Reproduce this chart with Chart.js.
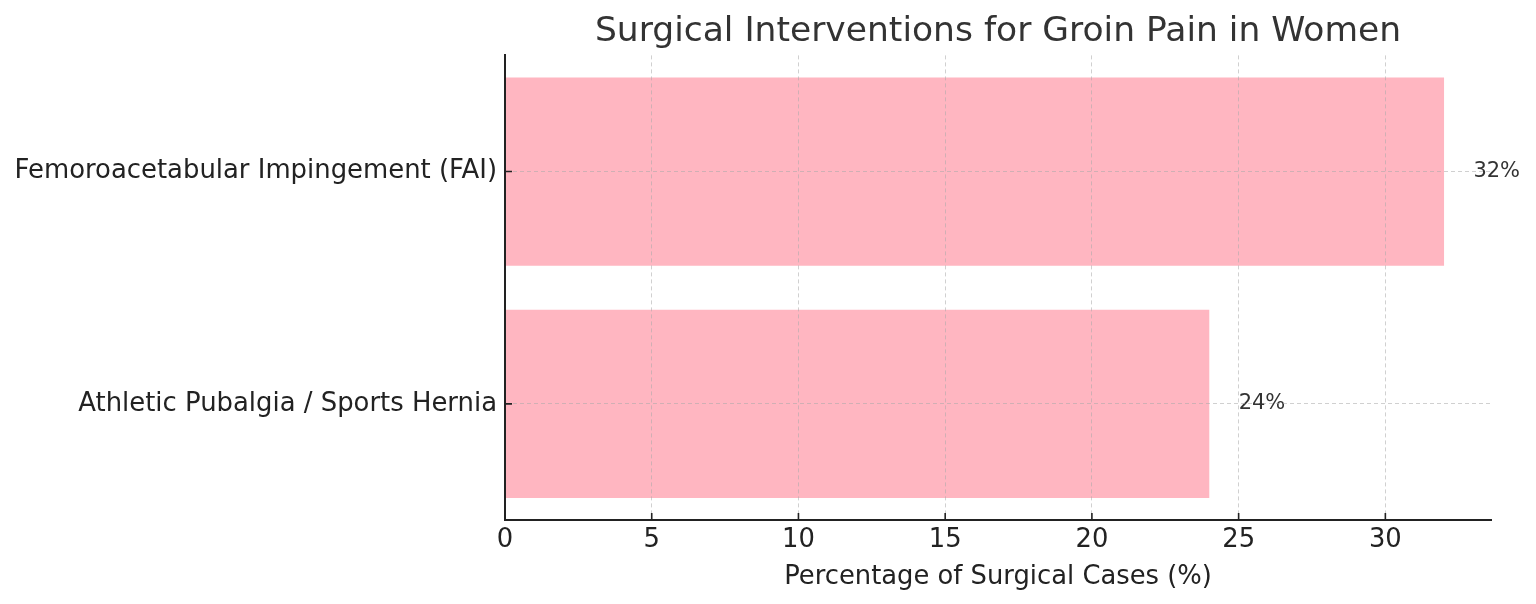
<!DOCTYPE html>
<html>
<head>
<meta charset="utf-8">
<script src="https://cdn.jsdelivr.net/npm/chart.js@4.4.1/dist/chart.umd.min.js"></script>
<style>
  html, body { margin: 0; padding: 0; background: #fff; }
  #wrap { width: 1536px; height: 604px; }
</style>
</head>
<body>
<div id="wrap"><canvas id="myChart" width="1536" height="604"></canvas></div>
<script>
// data
const categories = ['Femoroacetabular Impingement (FAI)', 'Athletic Pubalgia / Sports Hernia'];
const percentages = [32, 24];
const xTicks = [0, 5, 10, 15, 20, 25, 30];

const FONT = "'DejaVu Sans', 'Liberation Sans', sans-serif";
const gridColor = 'rgba(170,170,170,0.55)';

// value labels just right of each bar
const valueLabels = {
  id: 'valueLabels',
  afterDatasetsDraw(chart) {
    const ctx = chart.ctx;
    const xs = chart.scales.x;
    const meta = chart.getDatasetMeta(0);
    ctx.save();
    ctx.font = '21px ' + FONT;
    ctx.fillStyle = '#333333';
    ctx.textAlign = 'left';
    ctx.textBaseline = 'middle';
    meta.data.forEach((bar, i) => {
      ctx.fillText(percentages[i] + '%', xs.getPixelForValue(percentages[i] + 1), bar.y);
    });
    ctx.restore();
  }
};

// matplotlib style inward tick marks
const inwardTicks = {
  id: 'inwardTicks',
  afterDraw(chart) {
    const ctx = chart.ctx;
    const area = chart.chartArea;
    const xs = chart.scales.x, ys = chart.scales.y;
    ctx.save();
    ctx.strokeStyle = '#222';
    ctx.lineWidth = 1.6;
    ctx.beginPath();
    xs.ticks.forEach(t => {
      const px = xs.getPixelForValue(t.value);
      ctx.moveTo(px, area.bottom);
      ctx.lineTo(px, area.bottom - 7);
    });
    ys.ticks.forEach((t, i) => {
      const py = ys.getPixelForTick(i);
      ctx.moveTo(area.left, py);
      ctx.lineTo(area.left + 7, py);
    });
    ctx.stroke();
    ctx.restore();
  }
};

new Chart(document.getElementById('myChart'), {
  type: 'bar',
  data: {
    labels: categories,
    datasets: [{
      label: 'Percentage',
      data: percentages,
      backgroundColor: '#FFB6C1',
      borderWidth: 0,
      barPercentage: 0.81,
      categoryPercentage: 1.0
    }]
  },
  options: {
    indexAxis: 'y',
    responsive: false,
    animation: false,
    layout: { padding: { left: 0, right: 45, top: 0, bottom: 0 } },
    plugins: {
      legend: { display: false },
      tooltip: { enabled: false },
      title: {
        display: true,
        text: 'Surgical Interventions for Groin Pain in Women',
        color: '#333333',
        font: { family: FONT, size: 34.5, weight: 'normal' },
        fullSize: false,
        padding: { top: 11, bottom: 3 }
      }
    },
    scales: {
      x: {
        type: 'linear',
        min: 0,
        max: 33.6,
        afterBuildTicks(scale) {
          scale.ticks = xTicks.map(v => ({ value: v }));
        },
        afterFit(scale) { scale.height = 84; },
        ticks: {
          color: '#222',
          font: { family: FONT, size: 25.8 },
          padding: 5,
          maxRotation: 0
        },
        grid: { color: gridColor, lineWidth: 1, drawTicks: false, z: 1 },
        border: { display: true, color: '#222', width: 2, dash: [4, 3], z: 2 },
        title: {
          display: true,
          text: 'Percentage of Surgical Cases (%)',
          color: '#222',
          font: { family: FONT, size: 25.8 },
          padding: { top: 4, bottom: 11 }
        }
      },
      y: {
        type: 'category',
        afterFit(scale) { scale.width = 505; },
        ticks: {
          color: '#222',
          font: { family: FONT, size: 25.9 },
          padding: 8
        },
        grid: { color: gridColor, lineWidth: 1, drawTicks: false, offset: false, z: 1 },
        border: { display: true, color: '#222', width: 2, dash: [4, 3], z: 2 }
      }
    }
  },
  plugins: [valueLabels, inwardTicks]
});
</script>
</body>
</html>
